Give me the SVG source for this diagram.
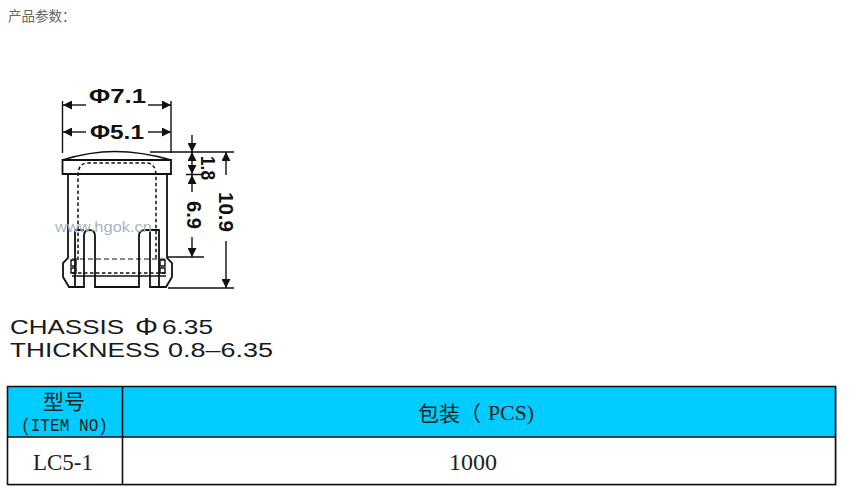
<svg xmlns="http://www.w3.org/2000/svg" width="864" height="493" viewBox="0 0 864 493">
<defs>
<style>
.l{fill:none;stroke:#111;stroke-width:1.4}
.t{fill:none;stroke:#111;stroke-width:1.8}
.d{fill:none;stroke:#111;stroke-width:1.5;stroke-dasharray:3.5 2.5}
.d2{fill:none;stroke:#111;stroke-width:1;stroke-dasharray:5 3}
.dim{fill:#111;font-family:"Liberation Sans",Arial,sans-serif;font-weight:bold;font-size:19.5px}
.spec{fill:#1a1a1a;font-family:"Liberation Sans",Arial,sans-serif;font-size:19.5px}
.cell{fill:#222;font-family:"Liberation Serif","Noto Sans CJK SC",serif;font-size:24px}
.cjk{fill:#222;font-family:"Noto Sans CJK SC",sans-serif;font-size:21px}
.grid{stroke:#111;stroke-width:1.6;fill:none}
</style>
<marker id="a" viewBox="0 0 10 10" refX="10" refY="5" markerWidth="11" markerHeight="9" markerUnits="userSpaceOnUse" orient="auto"><path d="M0 0L10 5L0 10Z" fill="#111"/></marker>
</defs>
<rect width="864" height="493" fill="#fff"/>
<text id="caption" x="8" y="21" style="fill:#666;font-family:'Noto Sans CJK SC',sans-serif;font-size:13.500px">产品参数：</text>
<g id="drawing">
<g id="cap">
<path class="l" d="M62.500 160C85 153 100 151.500 115 151.500C130 151.500 150 154 171 160"/>
<path class="t" d="M62.500 160H171V174H62.500Z"/>
</g>
<g id="body">
<path class="t" d="M68 174V258L63 263V277L69 287H84V236Q84 230 89 230Q95 230 95 236V287H139V236Q139 230 145 230H159V287H150V230M75 230V287M75 230H84M167 174V258L172 263V277L166 287H159"/>
<path class="d" d="M78 260V176Q78 163 88 163H146Q156 163 156 176V260"/>
<path class="d2" d="M72 259H167"/>
<path class="d" d="M72 273H166"/>
<path class="l" d="M72 276H166"/>
<path class="l" d="M71 260H76V266H71ZM71 268H76V273H71ZM160 260H165V266H160ZM160 268H165V273H160Z"/>
</g>
</g>
<g id="connectors">
<path class="l" d="M62.500 101V153M171 101V153M150 152H234M168 257H204M168 288H234M186 174.500H204"/>
<path class="l" marker-end="url(#a)" d="M86 105H63"/>
<path class="l" marker-end="url(#a)" d="M148 105H171"/>
<path class="l" marker-end="url(#a)" d="M86 132H63"/>
<path class="l" marker-end="url(#a)" d="M148 132H171"/>
<path class="l" marker-end="url(#a)" d="M192 135V152"/>
<path class="l" marker-end="url(#a)" d="M192 163V152"/>
<path class="l" marker-end="url(#a)" d="M192 163V174"/>
<path class="l" marker-end="url(#a)" d="M192 192V175"/>
<path class="l" marker-end="url(#a)" d="M192 237V257"/>
<path class="l" marker-end="url(#a)" d="M226 175V152"/>
<path class="l" marker-end="url(#a)" d="M226 241V288"/>
</g>
<g id="labels">
<text class="dim" x="89" y="103" textLength="57" lengthAdjust="spacingAndGlyphs">Φ7.1</text>
<text class="dim" x="90" y="139" textLength="54" lengthAdjust="spacingAndGlyphs">Φ5.1</text>
<text class="dim" transform="translate(201 156) rotate(90)" textLength="24" lengthAdjust="spacingAndGlyphs">1.8</text>
<text class="dim" transform="translate(187 201) rotate(90)" textLength="28" lengthAdjust="spacingAndGlyphs">6.9</text>
<text class="dim" transform="translate(219 192) rotate(90)" textLength="40" lengthAdjust="spacingAndGlyphs">10.9</text>
<text x="55" y="232" style="fill:#a9b4bf;font-family:'Liberation Sans',sans-serif;font-size:15px" textLength="97" lengthAdjust="spacingAndGlyphs">www.hgok.cn</text>
<text class="spec" x="10" y="334" textLength="114" lengthAdjust="spacingAndGlyphs">CHASSIS</text>
<text class="spec" x="135" y="335" textLength="23" lengthAdjust="spacingAndGlyphs" style="font-size:23px">Φ</text>
<text class="spec" x="162" y="334" textLength="51" lengthAdjust="spacingAndGlyphs">6.35</text>
<text class="spec" x="10" y="357" textLength="150" lengthAdjust="spacingAndGlyphs">THICKNESS</text>
<text class="spec" x="168" y="357" textLength="105" lengthAdjust="spacingAndGlyphs">0.8–6.35</text>
</g>
<g id="table">
<rect x="7.500" y="387" width="828" height="50" fill="#00ccff"/>
<path d="M836.500 387V485.500H8" fill="none" stroke="#ccc" stroke-width="1"/>
<path class="grid" d="M7.500 386.500H835.500V484.500H7.500ZM7.500 437H835.500M122.500 386.500V484.500"/>
<text class="cjk" x="43" y="409">型号</text>
<text x="21" y="431" textLength="87" lengthAdjust="spacingAndGlyphs" style="fill:#222;font-family:'Liberation Mono',monospace;font-size:18px">(ITEM NO)</text>
<text class="cjk" x="418" y="421">包装（</text>
<text x="488" y="420" textLength="46" lengthAdjust="spacingAndGlyphs" style="fill:#222;font-family:'Liberation Serif',serif;font-size:21px">PCS)</text>
<text class="cell" x="33" y="470" textLength="60" lengthAdjust="spacingAndGlyphs">LC5-1</text>
<text class="cell" x="449" y="470" textLength="48" lengthAdjust="spacingAndGlyphs">1000</text>
</g>
</svg>
